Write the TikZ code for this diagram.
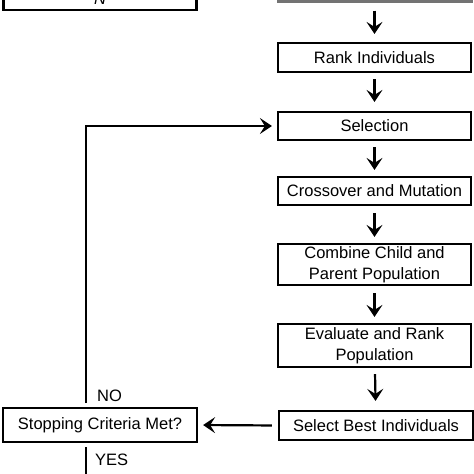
\documentclass[tikz,border=0pt]{standalone}
\usepackage{fontspec}
\setmainfont{Liberation Sans}
\usetikzlibrary{arrows.meta,calc}
\tikzset{
  box/.style={draw=black, line width=2.2pt, rectangle, inner sep=0pt, align=center,
    font=\fontsize{16.5}{20.5}\selectfont, minimum width=193pt},
  flow/.style={draw=black, line width=2.2pt, -{Stealth[length=12pt,width=16pt,inset=5pt]}},
  plain/.style={draw=black, line width=2.2pt},
  lbl/.style={font=\fontsize{16.5}{20}\selectfont, inner sep=0pt}
}
\begin{document}
\begin{tikzpicture}[x=1pt,y=-1pt]
\useasboundingbox (0,0) rectangle (474,474);
\clip (0,0) rectangle (474,474);
% partial boxes at the top
\node[box, minimum width=193pt, minimum height=50pt] (topl) at (100,-15) {};
\node[lbl, anchor=base] (nlab) at (100,4) {\itshape N};
\node[box, draw=black!55, line width=3pt, minimum width=193pt, minimum height=42pt] (init) at (374.5,-20) {};
% main column
\node[box, minimum height=29pt] (rank) at (374.5,57.5) {Rank Individuals};
\node[box, minimum height=28pt] (sel) at (374.5,126) {Selection};
\node[box, minimum height=28pt] (cross) at (374.5,191) {Crossover and Mutation};
\node[box, minimum height=41pt] (comb) at (374.5,264.5) {Combine Child and\\Parent Population};
\node[box, minimum height=43pt] (eval) at (374.5,345.5) {Evaluate and Rank\\Population};
\node[box, minimum width=194pt, minimum height=29pt] (best) at (376,425.5) {Select Best Individuals};
\node[box, minimum width=194pt, minimum height=34pt] (stop) at (100,425) {Stopping Criteria Met?};
% arrows
\draw[flow, shorten <=8pt, shorten >=8pt] (init.south -| rank.north) -- (rank.north);
\draw[flow, shorten <=6pt, shorten >=9pt] (rank) -- (sel);
\draw[flow, shorten <=6pt, shorten >=6pt] (sel) -- (cross);
\draw[flow, shorten <=7pt, shorten >=6pt] (cross) -- (comb);
\draw[flow, shorten <=7pt, shorten >=6pt] (comb) -- (eval);
\draw[flow, shorten <=6pt, shorten >=9pt] (eval) -- (best);
\draw[flow, shorten <=6pt, shorten >=5pt] (best.west) -- (stop.east);
% feedback loop
\coordinate (fb) at (86,403);
\draw[flow, shorten >=5pt] (fb) |- (sel.west);
\node[lbl, anchor=west] (no) at (97,396) {NO};
% exit
\coordinate (ys) at (86,447);
\coordinate (ye) at (86,480);
\draw[plain] (ys) -- (ye);
\node[lbl, anchor=west] (yes) at (95,460) {YES};
\end{tikzpicture}
\end{document}
